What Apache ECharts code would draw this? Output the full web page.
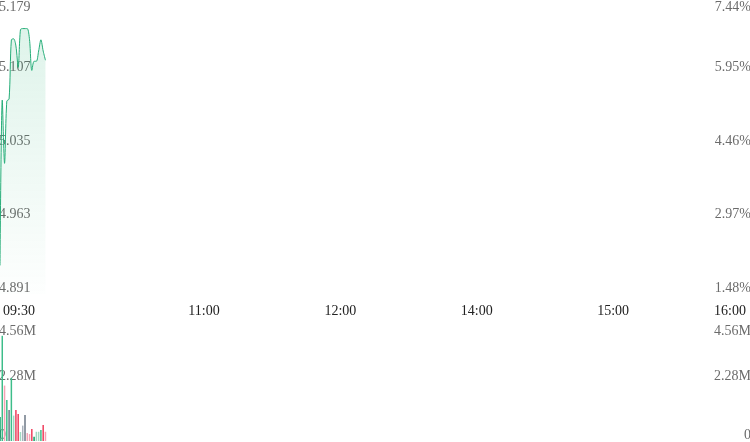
<!DOCTYPE html>
<html>
<head>
<meta charset="utf-8">
<script src="https://cdn.jsdelivr.net/npm/echarts@6/dist/echarts.min.js"></script>
<style>
  html, body { margin: 0; padding: 0; background: #fff; }
  #chart { width: 750px; height: 442px; }
</style>
</head>
<body>
<div id="chart"></div>
<script>
// tick labels
const timeLabels = ['09:30', '11:00', '12:00', '14:00', '15:00', '16:00']
const priceTicks = [4.891, 4.963, 5.035, 5.107, 5.179]
const pctTicks = [1.48, 2.97, 4.46, 5.95, 7.44]
const volTicks = [0, 2280000, 4560000]

// first minutes of the session
const prices = [4.919, 5.081, 5.019, 5.080, 5.082, 5.140, 5.141, 5.134, 5.113, 5.150, 5.151,
  5.151, 5.151, 5.140, 5.110, 5.119, 5.119, 5.129, 5.140, 5.129, 5.120]
const volumes = [940000, 4100000, 2160000, 1600000, 1210000, 2460000, 990000, 1210000, 1050000,
  350000, 600000, 1010000, 310000, 270000, 470000, 170000, 360000, 360000, 430000, 620000, 360000]
// G/M/g = up (strong..weak), R/r = down, N/n = neutral
const volKinds = ['G', 'M', 'r', 'M', 'N', 'M', 'g', 'R', 'R', 'g', 'n', 'N', 'r', 'r', 'R', 'G', 'g', 'g', 'M', 'R', 'r']

const kindColor = {
  G: '#0f9f68', M: '#3dbd8a', g: '#9fd8c0',
  R: '#ef3f5d', r: '#f5a3b4',
  N: '#6c7886', n: '#aab3bd'
}

// HK session: 09:30-12:00, 13:01-16:00
const minutes = []
const addRange = (from, to) => {
  for (let t = from; t <= to; t++) {
    const h = Math.floor(t / 60), m = t % 60
    minutes.push(String(h).padStart(2, '0') + ':' + String(m).padStart(2, '0'))
  }
}
addRange(9 * 60 + 30, 12 * 60)
addRange(13 * 60 + 1, 16 * 60)

const chart = echarts.init(document.getElementById('chart'))
const labelFont = { fontFamily: 'Liberation Serif', fontSize: 14 }

const yLabel = (fmt) => ({
  inside: true,
  margin: -1,
  color: '#6b6b6b',
  ...labelFont,
  verticalAlign: 'bottom',
  verticalAlignMaxLabel: 'top',
  padding: [0, 0, -1, 0],
  formatter: fmt
})

const option = {
  animation: false,
  grid: [
    { left: 0, right: 0, top: 0, height: 294, outerBoundsMode: 'none' },
    { left: 0, right: 0, top: 324, height: 117, outerBoundsMode: 'none' }
  ],
  xAxis: [
    {
      type: 'category', gridIndex: 0, data: minutes, boundaryGap: false,
      axisLine: { show: false }, axisTick: { show: false }, splitLine: { show: false },
      axisLabel: {
        color: '#222', ...labelFont, margin: 10,
        interval: (i, v) => timeLabels.includes(v),
        alignMinLabel: 'left', alignMaxLabel: 'right',
        padding: [0, 4, 0, 3]
      }
    },
    {
      type: 'category', gridIndex: 1, data: minutes, boundaryGap: false,
      axisLine: { show: false }, axisTick: { show: false }, axisLabel: { show: false },
      splitLine: { show: false }
    }
  ],
  yAxis: [
    {
      type: 'value', gridIndex: 0, position: 'left',
      min: priceTicks[0], max: priceTicks[priceTicks.length - 1], interval: 0.072,
      splitLine: { show: false }, axisLine: { show: false }, axisTick: { show: false },
      axisLabel: yLabel(v => v.toFixed(3))
    },
    {
      type: 'value', gridIndex: 0, position: 'right',
      min: pctTicks[0], max: pctTicks[pctTicks.length - 1], interval: 1.49,
      splitLine: { show: false }, axisLine: { show: false }, axisTick: { show: false },
      axisLabel: yLabel(v => v.toFixed(2) + '%')
    },
    {
      type: 'value', gridIndex: 1, position: 'left',
      min: volTicks[0], max: volTicks[2], interval: volTicks[1],
      splitLine: { show: false }, axisLine: { show: false }, axisTick: { show: false },
      axisLabel: yLabel(v => v === 0 ? '0' : (v / 1e6).toFixed(2) + 'M')
    },
    {
      type: 'value', gridIndex: 1, position: 'right',
      min: volTicks[0], max: volTicks[2], interval: volTicks[1],
      splitLine: { show: false }, axisLine: { show: false }, axisTick: { show: false },
      axisLabel: yLabel(v => v === 0 ? '0' : (v / 1e6).toFixed(2) + 'M')
    }
  ],
  series: [
    {
      type: 'line', xAxisIndex: 0, yAxisIndex: 0,
      data: prices, smooth: 0.3, showSymbol: false,
      lineStyle: { color: '#25ad78', width: 1 },
      areaStyle: {
        color: {
          type: 'linear', x: 0, y: 0, x2: 0, y2: 1,
          colorStops: [
            { offset: 0, color: 'rgba(46,180,120,0.22)' },
            { offset: 1, color: 'rgba(46,180,120,0.01)' }
          ]
        }
      }
    },
    {
      type: 'bar', xAxisIndex: 1, yAxisIndex: 2,
      barWidth: 1.5,
      data: volumes.map((v, i) => ({ value: v, itemStyle: { color: kindColor[volKinds[i]] } }))
    }
  ]
}
chart.setOption(option)
</script>
</body>
</html>
